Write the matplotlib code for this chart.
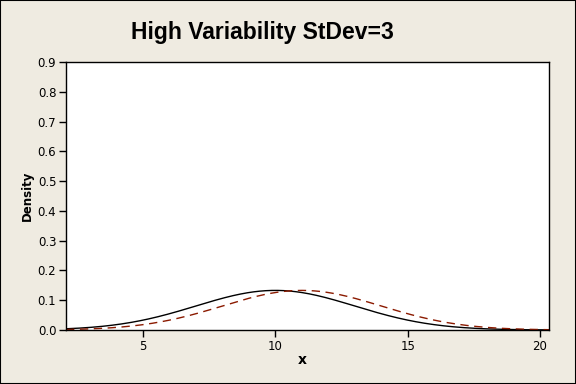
import numpy as np
import matplotlib
matplotlib.use("Agg")
import matplotlib.pyplot as plt
from matplotlib.patches import Rectangle

# distribution parameters
means = [10, 11]
stdev = 3
line_colors = ["black", "#8B1A00"]
line_styles = ["-", (0, (6, 4))]
x_ticks = [5, 10, 15, 20]
y_ticks = [0.0, 0.1, 0.2, 0.3, 0.4, 0.5, 0.6, 0.7, 0.8, 0.9]

x = np.linspace(2.09, 20.34, 400)

fig = plt.figure(figsize=(5.76, 3.84), dpi=100)
fig.patch.set_facecolor("#EFEBE1")
fig.patches.append(Rectangle((0, 0), 1, 1, transform=fig.transFigure,
                             fill=False, edgecolor="black", linewidth=1.5))

ax = fig.add_axes([66 / 576, 54 / 384, 483 / 576, 268 / 384])
ax.set_facecolor("white")

for mu, c, ls in zip(means, line_colors, line_styles):
    dens = np.exp(-0.5 * ((x - mu) / stdev) ** 2) / (stdev * np.sqrt(2 * np.pi))
    ax.plot(x, dens, color=c, linestyle=ls, linewidth=1.0)

ax.set_xlim(2.09, 20.34)
ax.set_ylim(0, 0.9)
ax.set_xticks(x_ticks)
ax.set_yticks(y_ticks)
ax.set_yticklabels([f"{v:.1f}" for v in y_ticks])
ax.tick_params(direction="out", length=5, width=1, labelsize=8.5, pad=2)
for s in ax.spines.values():
    s.set_linewidth(1)

ax.set_xlabel("x", fontsize=10, fontweight="bold")
ax.set_ylabel("Density", fontsize=8.5, fontweight="bold")
ax.xaxis.set_label_coords(0.49, -0.085)
ax.yaxis.set_label_coords(-0.066, 0.5)

fig.suptitle("High Variability StDev=3", fontsize=16.5, fontweight="bold",
             family="Liberation Sans", x=0.455, y=0.945)

fig.savefig("out.png", dpi=100, facecolor=fig.get_facecolor())
